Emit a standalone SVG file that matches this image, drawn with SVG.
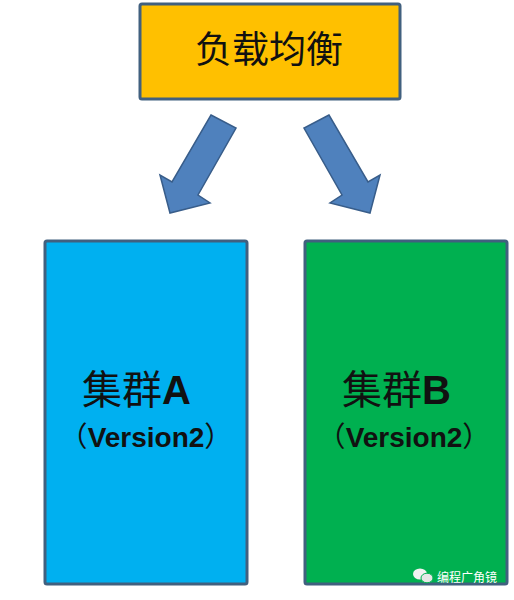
<svg xmlns="http://www.w3.org/2000/svg" width="514" height="600" viewBox="0 0 514 600">
<style>
.box{stroke:#41607f;stroke-width:3}
.arrow{fill:#4f81bd;stroke:#385d8a;stroke-width:1.5;stroke-linejoin:miter}
.cjk{font-family:"Noto Sans CJK SC","Liberation Sans",sans-serif;fill:#111}
.lat{font-family:"Liberation Sans","Noto Sans CJK SC",sans-serif;font-weight:bold;fill:#111}
.wm{font-family:"Noto Sans CJK SC",sans-serif;fill:#fff;font-size:12px}
</style>
<rect width="514" height="600" fill="#fff"/>
<g id="lb">
<rect class="box" x="140" y="4" width="260" height="95" rx="2" fill="#ffc000"/>
<text class="cjk" x="269" y="63" font-size="37" text-anchor="middle">负载均衡</text>
</g>
<g id="connectors">
<polygon class="arrow" points="211,115 236,128 198,195 210,203 170,213 160,175 172,182"/>
<polygon class="arrow" points="329,115 304,128 342,195 330,203 370,213 380,175 368,182"/>
</g>
<g id="clusterA">
<rect class="box" x="45" y="241" width="202" height="343" rx="2" fill="#00b0f0"/>
<text x="82" y="404" font-size="40"><tspan class="cjk">集群</tspan><tspan class="lat">A</tspan></text>
<text x="146" y="447" font-size="28" text-anchor="middle"><tspan class="cjk">（</tspan><tspan class="lat">Version2</tspan><tspan class="cjk">）</tspan></text>
</g>
<g id="clusterB">
<rect class="box" x="305" y="241" width="202" height="343" rx="2" fill="#00b050"/>
<text x="342" y="404" font-size="40"><tspan class="cjk">集群</tspan><tspan class="lat">B</tspan></text>
<text x="404" y="447" font-size="28" text-anchor="middle"><tspan class="cjk">（</tspan><tspan class="lat">Version2</tspan><tspan class="cjk">）</tspan></text>
</g>
<g id="watermark">
<ellipse cx="420" cy="574" rx="7" ry="5.5" fill="#f2f2f2"/>
<ellipse cx="427" cy="578" rx="6" ry="4.8" fill="#e6e6e6" stroke="#00b050" stroke-width="1"/>
<text class="wm" x="437" y="582">编程广角镜</text>
</g>
</svg>
